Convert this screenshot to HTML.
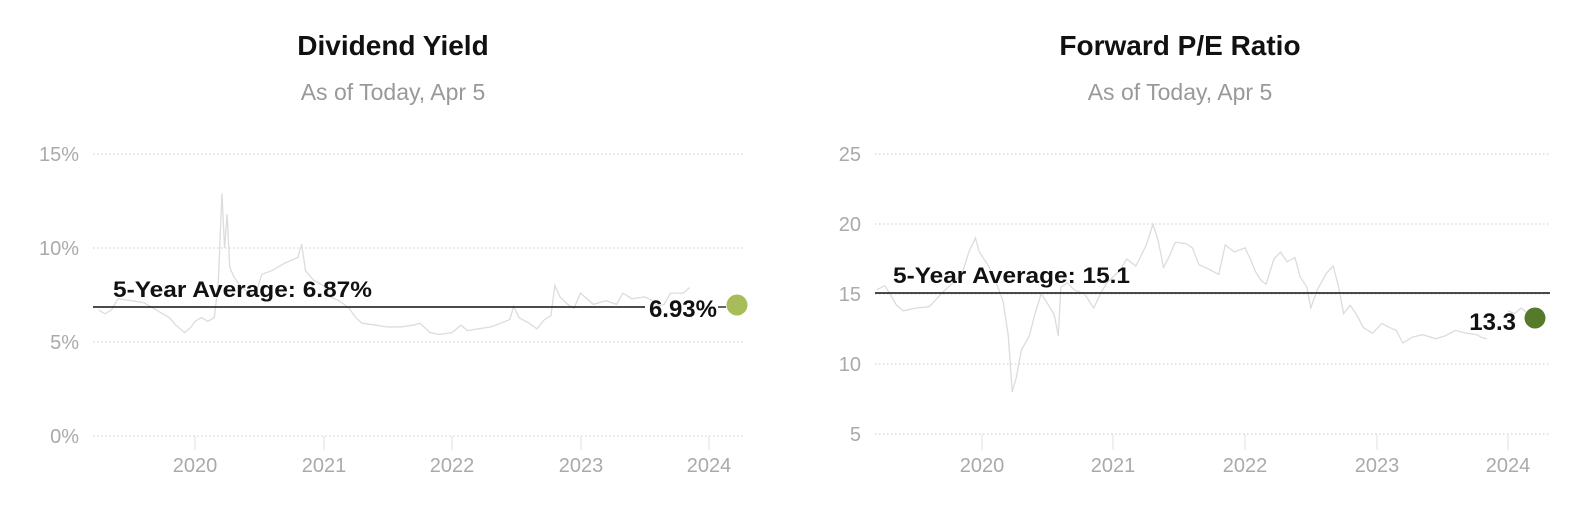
<!DOCTYPE html>
<html><head><meta charset="utf-8"><style>
body{margin:0;background:#fff;width:1572px;height:502px;overflow:hidden}
svg{font-family:"Liberation Sans",sans-serif}
</style></head><body>
<svg width="1572" height="502" viewBox="0 0 1572 502">
<g text-anchor="middle">
<text x="393" y="55" font-size="28" font-weight="bold" fill="#111">Dividend Yield</text>
<text x="393" y="100" font-size="23" fill="#999">As of Today, Apr 5</text>
<text x="1180" y="55" font-size="28" font-weight="bold" fill="#111">Forward P/E Ratio</text>
<text x="1180" y="100" font-size="23" fill="#999">As of Today, Apr 5</text>
</g>
<g stroke="#ccc" stroke-dasharray="1.5,2.5" stroke-width="1">
<line x1="93" x2="743" y1="154" y2="154"/><line x1="93" x2="743" y1="248" y2="248"/>
<line x1="93" x2="743" y1="342" y2="342"/><line x1="93" x2="743" y1="436" y2="436"/>
<line x1="875" x2="1550" y1="154" y2="154"/><line x1="875" x2="1550" y1="224" y2="224"/>
<line x1="875" x2="1550" y1="294" y2="294"/><line x1="875" x2="1550" y1="364" y2="364"/>
<line x1="875" x2="1550" y1="434" y2="434"/>
</g>
<g font-size="20" fill="#aaa" text-anchor="end">
<text x="79" y="161">15%</text><text x="79" y="255">10%</text><text x="79" y="349">5%</text><text x="79" y="443">0%</text>
<text x="861" y="161">25</text><text x="861" y="231">20</text><text x="861" y="301">15</text><text x="861" y="371">10</text><text x="861" y="441">5</text>
</g>
<g stroke="#e0e0e0" stroke-width="1">
<line x1="195" x2="195" y1="436" y2="450"/><line x1="324" x2="324" y1="436" y2="450"/><line x1="452" x2="452" y1="436" y2="450"/><line x1="581" x2="581" y1="436" y2="450"/><line x1="709" x2="709" y1="436" y2="450"/>
<line x1="982" x2="982" y1="434" y2="450"/><line x1="1113" x2="1113" y1="434" y2="450"/><line x1="1245" x2="1245" y1="434" y2="450"/><line x1="1377" x2="1377" y1="434" y2="450"/><line x1="1508" x2="1508" y1="434" y2="450"/>
</g>
<g font-size="20" fill="#aaa" text-anchor="middle">
<text x="195" y="472">2020</text><text x="324" y="472">2021</text><text x="452" y="472">2022</text><text x="581" y="472">2023</text><text x="709" y="472">2024</text>
<text x="982" y="472">2020</text><text x="1113" y="472">2021</text><text x="1245" y="472">2022</text><text x="1377" y="472">2023</text><text x="1508" y="472">2024</text>
</g>
<g transform="translate(195,436) scale(128.5,-18.8)">
<polyline fill="none" stroke="#dcdcdc" stroke-width="1.3" vector-effect="non-scaling-stroke" points="-0.75,6.7 -0.7,6.5 -0.65,6.7 -0.6,7.3 -0.5,7.2 -0.4,7.1 -0.3,6.7 -0.2,6.3 -0.15,5.9 -0.08,5.5 -0.03,5.8 0,6.1 0.05,6.3 0.1,6.1 0.15,6.3 0.18,8 0.21,12.9 0.23,10 0.25,11.8 0.27,9 0.3,8.5 0.35,8.0 0.42,7.6 0.47,7.5 0.52,8.6 0.6,8.8 0.7,9.2 0.8,9.5 0.83,10.2 0.86,8.8 0.92,8.3 1.0,8.0 1.05,7.4 1.12,7.2 1.2,6.8 1.25,6.3 1.3,6.0 1.4,5.9 1.5,5.8 1.6,5.8 1.7,5.9 1.75,6.0 1.83,5.5 1.9,5.4 2.0,5.5 2.07,5.9 2.12,5.6 2.2,5.7 2.3,5.8 2.38,6.0 2.45,6.2 2.48,6.9 2.52,6.3 2.6,6.0 2.66,5.7 2.72,6.2 2.77,6.4 2.8,8.0 2.84,7.4 2.9,7.0 2.95,6.8 3.0,7.6 3.05,7.3 3.1,7.0 3.2,7.2 3.28,7.0 3.33,7.6 3.4,7.3 3.5,7.4 3.56,7.2 3.6,6.9 3.65,7.0 3.7,7.6 3.8,7.6 3.85,7.9"/>
</g>
<line x1="93" x2="645" y1="307" y2="307" stroke="#111" stroke-width="1.6"/>
<line x1="718" x2="726" y1="307" y2="307" stroke="#111" stroke-width="1.3"/>
<text x="113" y="297" font-size="22" fill="#111" font-weight="bold" textLength="259" lengthAdjust="spacingAndGlyphs">5-Year Average: 6.87%</text>
<text x="717" y="317" font-size="24" fill="#111" text-anchor="end" font-weight="bold">6.93%</text>
<circle cx="737" cy="305" r="10.5" fill="#a8bd5a"/>
<g transform="translate(982,504) scale(131.5,-14)">
<polyline fill="none" stroke="#dcdcdc" stroke-width="1.3" vector-effect="non-scaling-stroke" points="-0.8,15.3 -0.74,15.6 -0.7,15.0 -0.65,14.2 -0.6,13.8 -0.5,14.0 -0.4,14.1 -0.35,14.6 -0.28,15.3 -0.22,15.8 -0.15,16.5 -0.1,18 -0.05,19 -0.02,18 0.05,17 0.12,15.5 0.16,14.5 0.2,12 0.23,8 0.26,9 0.3,11 0.36,12 0.4,13.5 0.45,15 0.5,14.3 0.55,13.5 0.58,12 0.6,15.5 0.65,15.8 0.7,15.3 0.78,15 0.85,14 0.9,15 0.95,15.8 1.05,16.7 1.1,17.5 1.17,17 1.25,18.5 1.3,20 1.34,18.8 1.38,16.9 1.42,17.6 1.47,18.7 1.55,18.6 1.6,18.3 1.65,17.1 1.72,16.8 1.8,16.4 1.85,18.5 1.92,18.0 2.0,18.3 2.04,17.5 2.08,16.6 2.12,16.0 2.16,15.7 2.22,17.5 2.27,18.0 2.32,17.3 2.38,17.6 2.42,16.2 2.47,15.5 2.5,14.0 2.55,15.3 2.62,16.5 2.67,17.0 2.71,15.6 2.75,13.6 2.8,14.2 2.85,13.5 2.9,12.6 2.97,12.2 3.04,12.9 3.1,12.6 3.15,12.4 3.2,11.5 3.27,11.9 3.35,12.1 3.45,11.8 3.52,12.0 3.6,12.4 3.68,12.2 3.76,12.1 3.8,11.9 3.84,11.8"/>
<polyline fill="none" stroke="#dcdcdc" stroke-width="1.3" vector-effect="non-scaling-stroke" points="4.0,13.8 4.05,13.6 4.1,14.0 4.14,13.7"/>
</g>
<line x1="875" x2="1550" y1="293" y2="293" stroke="#111" stroke-width="1.6"/>
<text x="893" y="283" font-size="22" fill="#111" font-weight="bold" textLength="237" lengthAdjust="spacingAndGlyphs">5-Year Average: 15.1</text>
<text x="1516" y="330" font-size="24" fill="#111" text-anchor="end" font-weight="bold">13.3</text>
<circle cx="1535" cy="318" r="10.5" fill="#557a2a"/>
</svg>
</body></html>
